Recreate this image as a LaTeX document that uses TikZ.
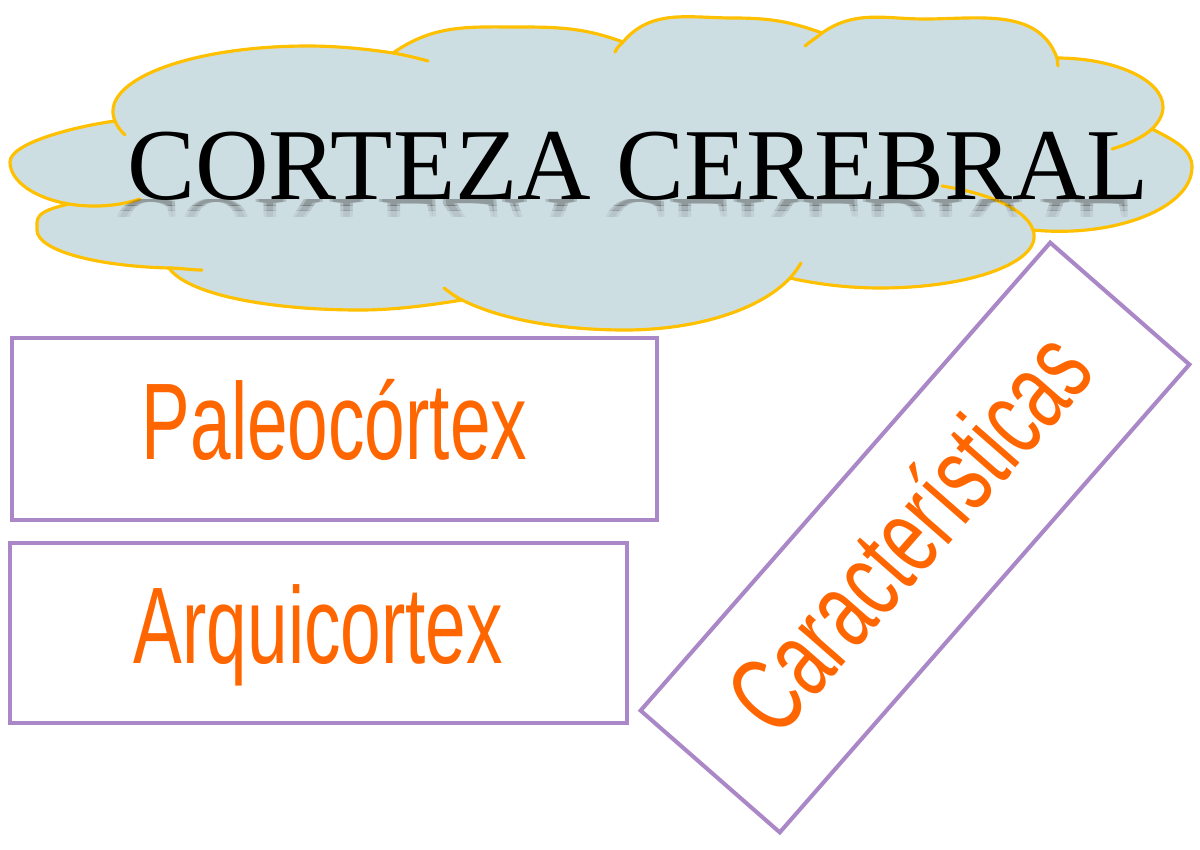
\documentclass[tikz,border=0pt]{standalone}
\usepackage{fontspec}
\usetikzlibrary{positioning,calc}
\newfontfamily\titlefont{Liberation Serif}
\newfontfamily\boxfont[FakeStretch=0.67]{Liberation Sans}
\definecolor{cloudfill}{RGB}{205,222,227}
\definecolor{cloudline}{RGB}{255,192,0}
\definecolor{boxline}{RGB}{170,135,198}
\definecolor{boxtext}{RGB}{255,102,0}
\tikzset{
	cloudshape/.style={fill=cloudfill, draw=cloudline, line width=1.8pt, line join=round},
	crease/.style={draw=cloudline, line width=1.8pt, line cap=round},
	titletext/.style={font=\titlefont\fontsize{58}{60}\selectfont, inner sep=0, anchor=base west},
	cortexbox/.style={draw=boxline, line width=2.3pt, inner sep=0, text=boxtext, font=\boxfont\fontsize{62}{64}\selectfont, text height=1.56cm, text depth=0.36cm}
}

\begin{document}
\begin{tikzpicture}[x=0.02cm, y=0.02cm]
		% one unit is one pixel of the page, y runs downwards as -y
		\fill[white] (0,0) rectangle (1200,-849);
		
		% the cloud, lobe by lobe (clockwise from the left)
		\path[cloudshape] (69,-204) .. controls +(-35,6) and +(0,-19) .. (10,-162)
			.. controls +(0,19.5) and +(-37,-5) .. (115,-121)
			.. controls +(-17,40) and +(-119,0) .. (308,-46)
			.. controls +(29,0) and +(-26,4) .. (393,-53)
			to[out=35,in=180] (520,-27) to[out=0,in=160] (623,-42)
			to[out=50,in=180] (733,-18) to[out=0,in=160] (822,-33)
			to[out=35,in=180] (925,-19) to[out=0,in=110] (1057,-58)
			.. controls +(58,0) and +(0,27) .. (1163,-107)
			.. controls +(0,-7.5) and +(7,7) .. (1152,-129)
			.. controls +(24,-12) and +(0,17) .. (1192,-167)
			.. controls +(0,-41) and +(82,-8) .. (1033,-230)
			.. controls +(11,-31) and +(93,0) .. (880,-288)
			.. controls +(-32,0) and +(26,-6) .. (790,-278)
			.. controls +(-30,-32) and +(71,0) .. (625,-330)
			.. controls +(-63,0) and +(40,-20) .. (462,-300)
			.. controls +(-31,-5) and +(36,0) .. (360,-310)
			.. controls +(-93,0) and +(18,-26) .. (169,-268)
			.. controls +(-75,2) and +(0,-20) .. (37,-230)
			.. controls +(0,12) and +(-35,-8) .. (69,-204) -- cycle;
		
		% small inner arcs where the lobes meet
		\draw[crease] (69,-204) .. controls +(24,-4) and +(-21,-7) .. (140,-199);
		\draw[crease] (115,-121) .. controls +(2,-5) and +(-5,5) .. (125,-135);
		\draw[crease] (393,-53) .. controls +(12,-2) and +(-11,3) .. (428,-61);
		\draw[crease] (623,-42) to[out=-130,in=70] (615,-52);
		\draw[crease] (822,-33) to[out=-140,in=40] (805,-46);
		\draw[crease] (1057,-58) to[out=-85,in=90] (1058,-66);
		\draw[crease] (1152,-129) .. controls +(-9,-8) and +(17,5) .. (1112,-149);
		\draw[crease] (942,-186) .. controls +(51,-8) and +(-6,19) .. (1033,-230);
		\draw[crease] (790,-278) .. controls +(4.5,5) and +(-3,-5) .. (801,-263);
		\draw[crease] (462,-300) .. controls +(-6,3) and +(5,-4) .. (444,-288);
		\draw[crease] (169,-268) .. controls +(11,0) and +(-11,0) .. (202,-270);
		
		% title and its faded mirror image
		\foreach \ya/\yb/\op in {199/205/0.22, 205/210/0.14, 210/216/0.07}{
			\begin{scope}
				\clip (90,-\ya) rectangle (1160,-\yb);
				\foreach \dx in {-1.5,1.5}
					\node[titletext, text=black!80, opacity=\op, yscale=-1] (mirror\ya) at (112+\dx,-199) {CORTEZA CEREBRAL};
			\end{scope}
		}
		\node[titletext] (title) at (127,-199) {CORTEZA CEREBRAL};
		
		% the three boxes
		\node[cortexbox, minimum width=12.9cm, minimum height=3.64cm] (paleo) at (334.5,-429) {Paleocórtex};
		\node[cortexbox, minimum width=12.34cm, minimum height=3.6cm] (arqui) at (318.5,-633) {Arquicortex};
		\node[cortexbox, minimum width=12.44cm, minimum height=3.7cm, rotate=48.8] (carac) at (915,-537.5) {Características};
		
	\end{tikzpicture}
\end{document}
